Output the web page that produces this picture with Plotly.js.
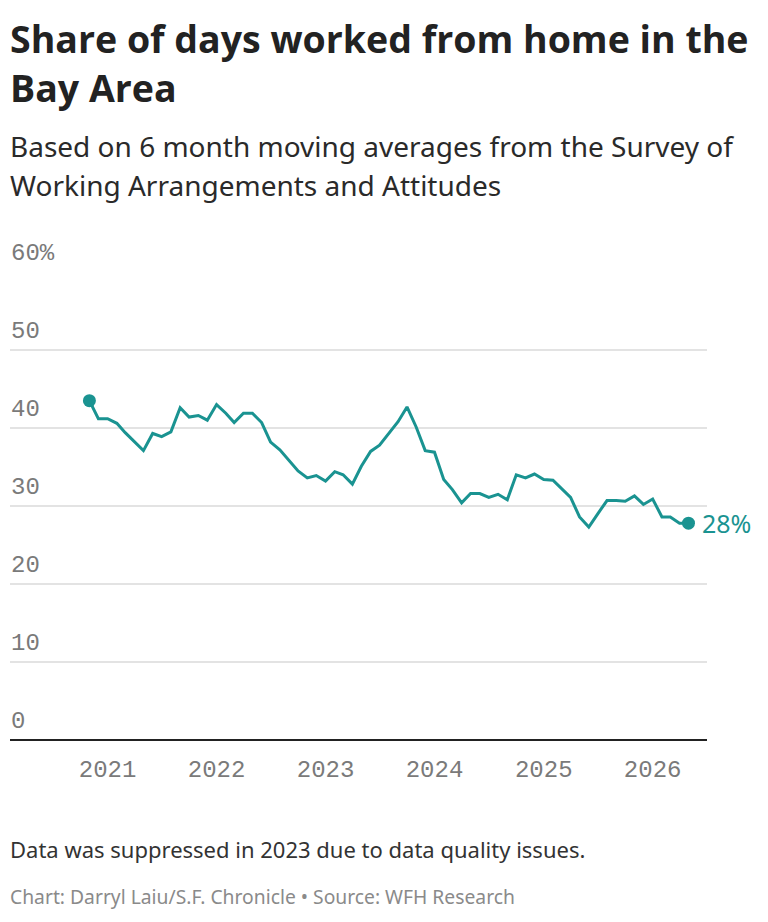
<!DOCTYPE html>
<html>
<head>
<meta charset="utf-8">
<script src="https://cdn.plot.ly/plotly-3.0.1.min.js"></script>
<style>
  html, body { margin: 0; padding: 0; background: #fff; }
  #chart { width: 768px; height: 922px; }
</style>
</head>
<body>
<div id="chart"></div>
<script>
// ---- Data ----
const months = [
  '2020-11-01','2020-12-01',
  '2021-01-01','2021-02-01','2021-03-01','2021-04-01','2021-05-01','2021-06-01','2021-07-01','2021-08-01','2021-09-01','2021-10-01','2021-11-01','2021-12-01',
  '2022-01-01','2022-02-01','2022-03-01','2022-04-01','2022-05-01','2022-06-01','2022-07-01','2022-08-01','2022-09-01','2022-10-01','2022-11-01','2022-12-01',
  '2023-01-01','2023-02-01','2023-03-01','2023-04-01','2023-05-01','2023-06-01','2023-07-01','2023-08-01','2023-09-01','2023-10-01','2023-11-01','2023-12-01',
  '2024-01-01','2024-02-01','2024-03-01','2024-04-01','2024-05-01','2024-06-01','2024-07-01','2024-08-01','2024-09-01','2024-10-01','2024-11-01','2024-12-01',
  '2025-01-01','2025-02-01','2025-03-01','2025-04-01','2025-05-01','2025-06-01','2025-07-01','2025-08-01','2025-09-01','2025-10-01','2025-11-01','2025-12-01',
  '2026-01-01','2026-02-01','2026-03-01','2026-04-01','2026-05-01'
];
const wfhShare = [
  43.5, 41.2, 41.2, 40.6, 39.4, 38.2, 37.1, 39.3, 38.9, 39.5,
  42.6, 41.4, 41.6, 41.0, 43.0, 41.9, 40.7, 41.9, 41.9, 40.7,
  38.2, 37.2, 35.8, 34.5, 33.6, 33.9, 33.2, 34.4, 34.0, 32.8,
  35.1, 37.0, 37.8, 39.3, 40.8, 42.7, 40.1, 37.1, 36.9, 33.4,
  32.1, 30.4, 31.6, 31.6, 31.1, 31.5, 30.8, 34.0, 33.6, 34.1,
  33.4, 33.3, 32.2, 31.1, 28.6, 27.3, 29.0, 30.7, 30.7, 30.6,
  31.3, 30.2, 30.9, 28.6, 28.6, 27.8, 27.8
];
const xTickVals = ['2021-01-01','2022-01-01','2023-01-01','2024-01-01','2025-01-01','2026-01-01'];
const xTickText = ['2021','2022','2023','2024','2025','2026'];
const yTickVals = [0, 10, 20, 30, 40, 50, 60];
const yTickText = ['0', '10', '20', '30', '40', '50', '60%'];
const endLabel = '28%';

const titleLines = ['Share of days worked from home in the', 'Bay Area'];
const subtitleLines = ['Based on 6 month moving averages from the Survey of', 'Working Arrangements and Attitudes'];
const noteText = 'Data was suppressed in 2023 due to data quality issues.';
const sourceText = 'Chart: Darryl Laiu/S.F. Chronicle \u2022 Source: WFH Research';

// ---- Styles ----
const teal = '#1a9391';
const tickFont = { family: 'Liberation Mono, DejaVu Sans Mono, monospace', size: 24, color: '#7a7a7a' };

const lastIdx = wfhShare.length - 1;

const traces = [
  {
    x: months, y: wfhShare, type: 'scatter', mode: 'lines',
    line: { color: teal, width: 3, shape: 'linear' },
    hoverinfo: 'skip', showlegend: false
  },
  {
    x: [months[0], months[lastIdx]], y: [wfhShare[0], wfhShare[lastIdx]],
    type: 'scatter', mode: 'markers',
    marker: { color: teal, size: 13 },
    hoverinfo: 'skip', showlegend: false
  }
];

const annotations = [];
yTickVals.forEach((v, i) => {
  annotations.push({
    xref: 'paper', yref: 'y', x: 0, y: v, text: yTickText[i],
    xanchor: 'left', yanchor: 'bottom', yshift: 3, xshift: -1, showarrow: false,
    font: tickFont
  });
});
annotations.push({
  xref: 'x', yref: 'y', x: months[lastIdx], y: wfhShare[lastIdx], text: endLabel,
  xanchor: 'left', yanchor: 'middle', xshift: 12, showarrow: false,
  font: { family: 'Noto Sans, sans-serif', size: 25, color: teal }
});
const titleFont = { family: 'Open Sans, Noto Sans, sans-serif', size: 37.5, color: '#222', weight: 700 };
titleLines.forEach((t, i) => {
  annotations.push({
    xref: 'paper', yref: 'paper', x: 0, xanchor: 'left', yanchor: 'middle', xshift: -2,
    y: 1, showarrow: false, text: '<b>' + t + '</b>',
    font: titleFont, _line: i
  });
});
subtitleLines.forEach((t, i) => {
  annotations.push({
    xref: 'paper', yref: 'paper', x: 0, xanchor: 'left', yanchor: 'middle', xshift: -2,
    y: 1, showarrow: false, text: t,
    font: { family: 'Noto Sans, sans-serif', size: 28, color: '#2a2a2a' }, _line: 10 + i
  });
});

// position header/footer lines in pixels relative to figure
const H = 922, T = 272, B = 182;
const plotH = H - T - B;
function paperY(px) { return (H - B - px) / plotH; }
const headerY = { 0: 38, 1: 87, 10: 146, 11: 185 };
annotations.forEach(a => {
  if (a._line !== undefined) { a.y = paperY(headerY[a._line]); delete a._line; }
});
annotations.push({
  xref: 'paper', yref: 'paper', x: 0, y: paperY(849), xanchor: 'left', yanchor: 'middle', xshift: -2,
  showarrow: false, text: noteText,
  font: { family: 'Noto Sans, sans-serif', size: 22, color: '#333' }
});
annotations.push({
  xref: 'paper', yref: 'paper', x: 0, y: paperY(896), xanchor: 'left', yanchor: 'middle', xshift: -2,
  showarrow: false, text: sourceText,
  font: { family: 'Noto Sans, sans-serif', size: 19.3, color: '#8a8a8a' }
});

const layout = {
  width: 768, height: 922,
  margin: { l: 10, r: 61, t: T, b: B, pad: 0 },
  paper_bgcolor: '#fff', plot_bgcolor: '#fff',
  showlegend: false,
  xaxis: {
    type: 'date', range: ['2020-02-09', '2026-07-02'],
    tickvals: xTickVals, ticktext: xTickText,
    showgrid: false, zeroline: false, showline: false,
    ticks: '', tickfont: tickFont, ticklabelstandoff: 12, fixedrange: true
  },
  yaxis: {
    range: [0, 60], tickvals: yTickVals, showticklabels: false,
    showgrid: true, gridcolor: '#e3e3e3', gridwidth: 1.5,
    zeroline: true, zerolinecolor: '#222', zerolinewidth: 2,
    showline: false, ticks: '', fixedrange: true
  },
  annotations: annotations
};

Plotly.newPlot('chart', traces, layout, { displayModeBar: false, staticPlot: true });
</script>
</body>
</html>
